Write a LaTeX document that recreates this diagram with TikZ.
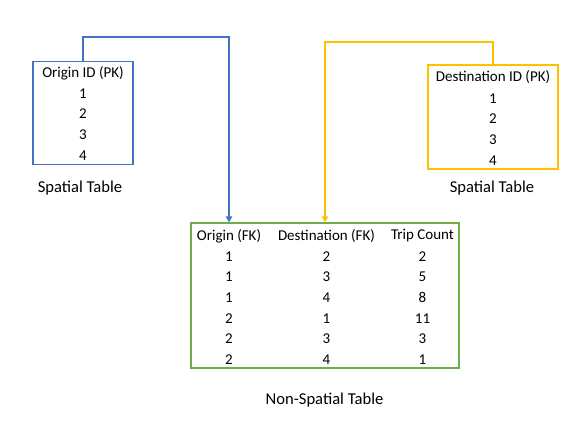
\documentclass[tikz,border=0pt]{standalone}
\usepackage{fontspec}
\setmainfont{Carlito}
\usetikzlibrary{arrows.meta}
\definecolor{offblue}{RGB}{68,114,196}
\definecolor{offgold}{RGB}{255,192,0}
\definecolor{offgreen}{RGB}{112,173,71}
\tikzset{
    cell/.style={inner sep=0pt, font=\fontsize{15}{17}\selectfont},
    caption/.style={inner sep=0pt, font=\fontsize{16.6}{19}\selectfont},
    tab/.style={draw, line width=1.4pt, inner sep=0pt},
    link/.style={line width=1.4pt, -{Triangle[width=6.5pt,length=6pt]}}
}
\begin{document}
\begin{tikzpicture}[x=1pt, y=-1pt]
    \useasboundingbox (0,0) rectangle (578,428);
    % spatial table, origins
    \node[tab, offblue, minimum width=100pt, minimum height=103pt] (origtab) at (83,113) {};
    \node[cell] (oh) at (83,73) {Origin ID (PK)};
    \foreach \i/\y in {1/93.5,2/114,3/134.5,4/155.5} {
        \node[cell] (o\i) at (83,\y) {\i};
    }
    \node[caption] (origcap) at (80,188) {Spatial Table};
    % spatial table, destinations
    \node[tab, offgold, minimum width=130pt, minimum height=104pt] (desttab) at (493,117) {};
    \node[cell] (dh) at (493,77.5) {Destination ID (PK)};
    \foreach \i/\y in {1/98.5,2/119,3/139.5,4/160.5} {
        \node[cell] (d\i) at (493,\y) {\i};
    }
    \node[caption] (destcap) at (492,188) {Spatial Table};
    % non-spatial table
    \node[tab, offgreen, minimum width=268pt, minimum height=145pt] (triptab) at (325,295.5) {};
    \node[cell] (th1) at (229,236) {Origin (FK)};
    \node[cell] (th2) at (326.5,236) {Destination (FK)};
    \node[cell] (th3) at (422.5,236) {Trip Count};
    \foreach \o/\d/\n [count=\r] in {1/2/2,1/3/5,1/4/8,2/1/11,2/3/3,2/4/1} {
        \node[cell] (ro\r) at (229,235.5+20.7*\r) {\o};
        \node[cell] (rd\r) at (326.5,235.5+20.7*\r) {\d};
        \node[cell] (rn\r) at (422.5,235.5+20.7*\r) {\n};
    }
    \node[caption] (tripcap) at (324.5,400.5) {Non-Spatial Table};
    % keys
    \coordinate (obend) at (229,37);
    \coordinate (dbend) at (325,42);
    \draw[link, offblue] (origtab.north) |- (obend) -- (obend |- triptab.north);
    \draw[link, offgold] (desttab.north) |- (dbend) -- (dbend |- triptab.north);
\end{tikzpicture}
\end{document}
